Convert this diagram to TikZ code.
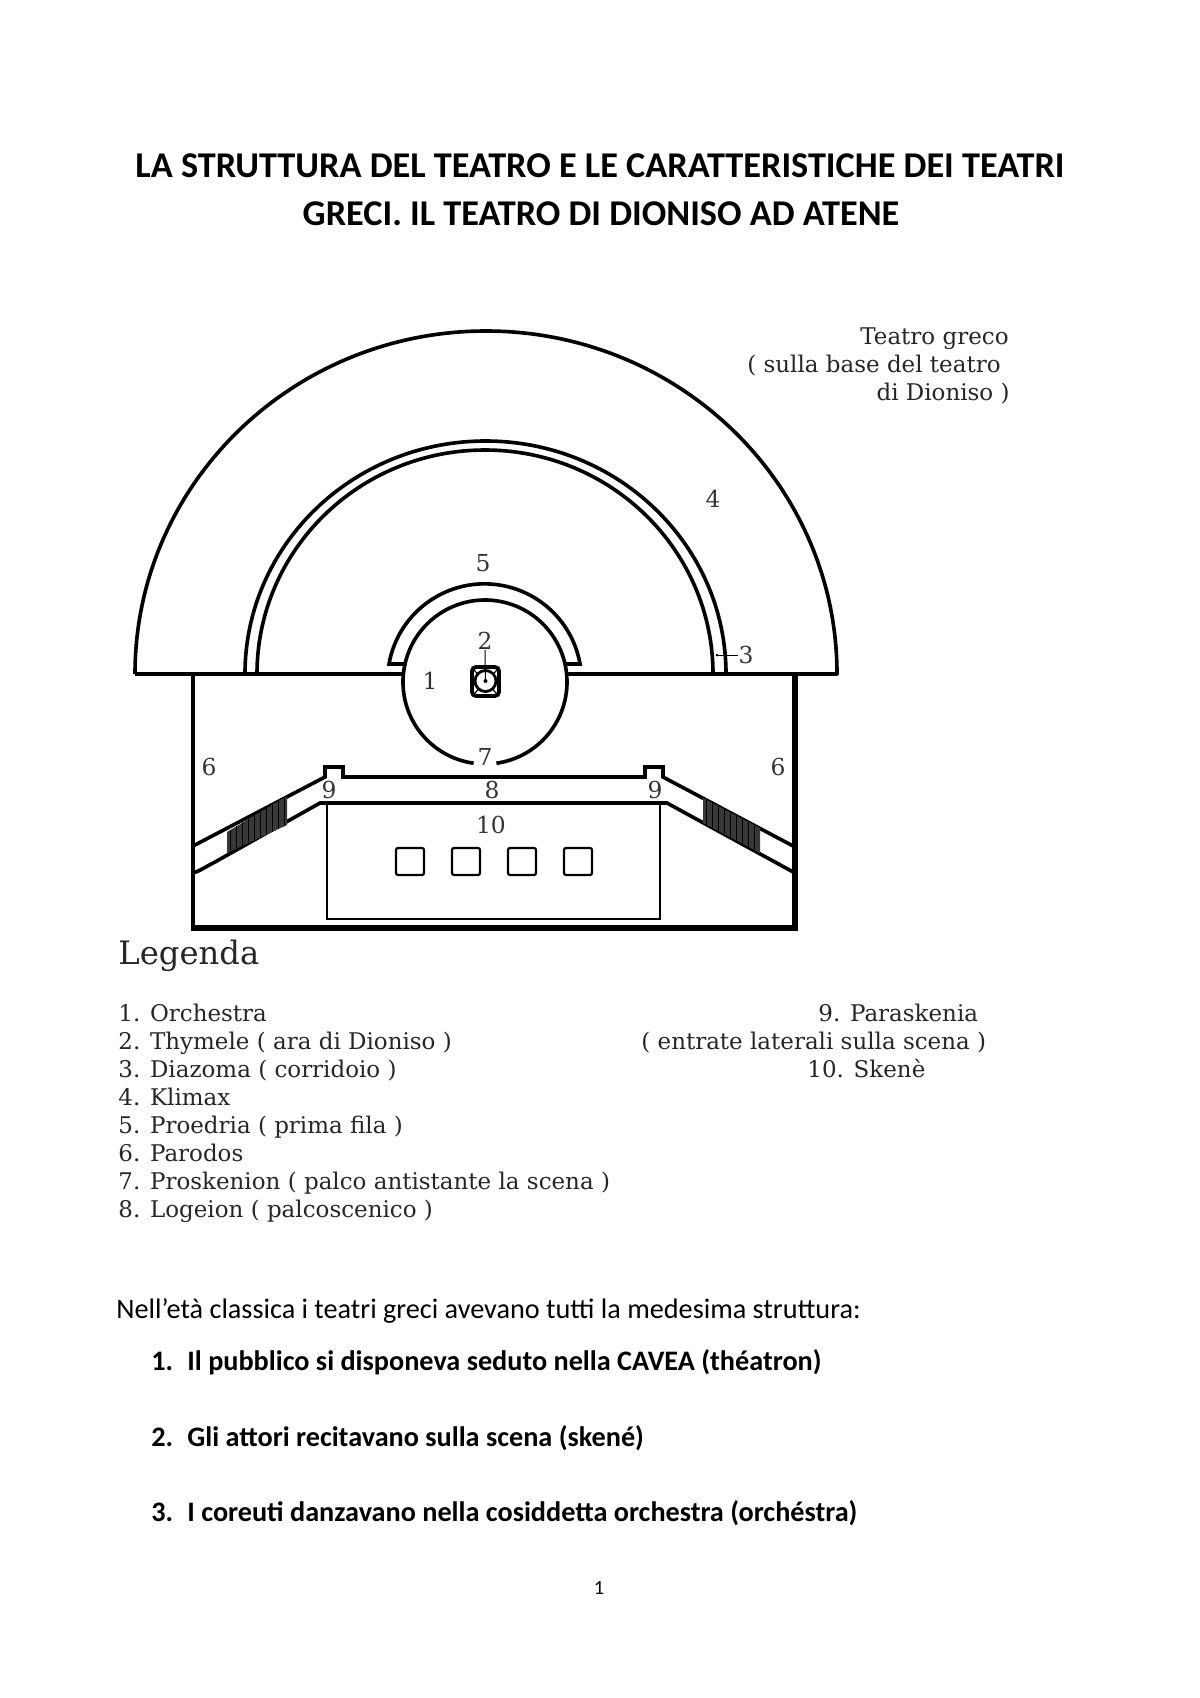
\documentclass[tikz,border=0pt]{standalone}
\usepackage{fontspec}
\setmainfont{Carlito}
\newfontfamily\legfont{DejaVu Serif}
\tikzset{
  wall/.style={line width=1.8pt},
  thinwall/.style={line width=1.1pt},
  num/.style={font=\legfont\fontsize{11.6}{14}\selectfont, text=black!80, inner sep=0pt},
  legend/.style={font=\legfont\fontsize{11.4}{14}\selectfont, text=black!85, anchor=base west, inner sep=0pt},
  body/.style={font=\fontsize{14}{17}\selectfont, anchor=base west, inner sep=0pt},
  voce/.style={body, font=\bfseries\fontsize{14}{17}\selectfont},
  titolo/.style={font=\bfseries\fontsize{18}{22}\selectfont, anchor=base, inner sep=0pt},
}
\begin{document}
\begin{tikzpicture}[x=0.496pt, y=-0.496pt]
  \useasboundingbox (0,0) rectangle (1200,1698);
  \fill[white] (0,0) rectangle (1200,1698);

  \node[titolo] (titolo1) at (600,177) {LA STRUTTURA DEL TEATRO E LE CARATTERISTICHE DEI TEATRI};
  \node[titolo] (titolo2) at (601,225) {GRECI. IL TEATRO DI DIONISO AD ATENE};

  % cavea
  \draw[wall, line join=round] (135,674) arc[start angle=180, end angle=360, x radius=351, y radius=343] -- (567,674);
  \draw[wall] (403,674) -- (135,674);
  \draw[wall] (245,674) arc[start angle=180, end angle=360, x radius=240.5, y radius=233];
  \draw[wall] (257,674) arc[start angle=180, end angle=360, x radius=228, y radius=224];

  % proedria
  \draw[wall] (406,664) -- (389,664) arc[start angle=190, end angle=350, x radius=97, y radius=97] -- (564,664);

  % orchestra
  \coordinate (orch) at (485,682);
  \draw[wall] (orch) ++(98:82) arc[start angle=98, end angle=442, radius=82];

  % thymele
  \coordinate (thymele) at (485.5,681);
  \draw[line width=1.9pt, rounded corners=2pt] (472,667) rectangle (499,696);
  \draw[line width=0.6pt] (473,669) -- (498,695) (498,669) -- (473,695);
  \fill[white] (thymele) circle (10);
  \draw[line width=1.4pt] (thymele) circle (10.5);
  \fill (thymele) circle (2);

  % recinto
  \draw[line width=2pt] (193,674) -- (193,928);
  \draw[line width=2.8pt] (191,928) -- (795,928) -- (795,674);

  % logeion e parodoi
  \draw[wall, line join=miter] (193,846) -- (325,777) -- (325,767) -- (343,767) -- (343,777) -- (645,777) -- (645,767) -- (663,767) -- (663,777) -- (795,847);
  \draw[wall, line join=miter] (193,873) .. controls (200,871) and (205,867) .. (215,862) -- (320,803) -- (667,803) -- (795,873);

  % scalette
  \begin{scope}
    \clip (227,832) -- (287,796) -- (287,825) -- (227,853) -- cycle;
    \fill[black!78] (220,790) rectangle (290,860);
    \foreach \x in {230,236,...,290} \draw[black, line width=0.4pt] (\x,790) -- (\x,860);
  \end{scope}
  \begin{scope}
    \clip (703,798) -- (760,828) -- (760,853) -- (703,823) -- cycle;
    \fill[black!78] (700,790) rectangle (765,860);
    \foreach \x in {706,712,...,760} \draw[black, line width=0.4pt] (\x,790) -- (\x,860);
  \end{scope}

  % skene
  \draw[thinwall] (327,803) -- (327,919) -- (660,919) -- (660,803);
  \foreach \x in {396,452,508,564}
    \draw[thinwall, rounded corners=1pt] (\x,848) rectangle ++(28,27);

  % numeri
  \node[num] (n1) at (430,681) {1};
  \node[num] (n2) at (485,641) {2};
  \node[num] (n3) at (746,655) {3};
  \node[num] (n4) at (713,499) {4};
  \node[num] (n5) at (483,563) {5};
  \node[num] (n6a) at (209,767) {6};
  \node[num] (n6b) at (778,767) {6};
  \node[num] (n7) at (485,757) {7};
  \node[num] (n8) at (492,790) {8};
  \node[num] (n9a) at (329,790) {9};
  \node[num] (n9b) at (655,790) {9};
  \node[num] (n10) at (491,825) {10};

  \draw[line width=0.5pt] (n2.south) -- (thymele);
  \coordinate (diazoma) at (717,655);
  \fill (diazoma) circle (1.5);
  \draw[line width=0.5pt] (n3.west) -- (diazoma);

  % didascalia
  \node[legend, anchor=base east] (did1) at (1009,344) {Teatro greco};
  \node[legend, anchor=base east] (did2) at (1001,372) {( sulla base del teatro};
  \node[legend, anchor=base east] (did3) at (1010,400) {di Dioniso )};

  % legenda
  \node[legend, font=\legfont\fontsize{16}{19}\selectfont] (leg0) at (118,964) {Legenda};
  \node[legend] (leg1) at (118,1021) {1. Orchestra};
  \node[legend] (leg2) at (118,1049) {2. Thymele ( ara di Dioniso )};
  \node[legend] (leg3) at (118,1077) {3. Diazoma ( corridoio )};
  \node[legend] (leg4) at (118,1105) {4. Klimax};
  \node[legend] (leg5) at (118,1133) {5. Proedria ( prima fila )};
  \node[legend] (leg6) at (118,1161) {6. Parodos};
  \node[legend] (leg7) at (118,1189) {7. Proskenion ( palco antistante la scena )};
  \node[legend] (leg8) at (118,1217) {8. Logeion ( palcoscenico )};
  \node[legend] (leg9) at (818,1021) {9. Paraskenia};
  \node[legend] (leg9b) at (641,1049) {( entrate laterali sulla scena )};
  \node[legend] (leg10) at (807,1077) {10. Skenè};

  % testo
  \node[body] (testo) at (116,1318) {Nell’età classica i teatri greci avevano tutti la medesima struttura:};
  \foreach \n/\y/\t in {1/1370/Il pubblico si disponeva seduto nella CAVEA (théatron),
                        2/1446/Gli attori recitavano sulla scena (skené),
                        3/1521/I coreuti danzavano nella cosiddetta orchestra (orchéstra)} {
    \node[voce] (voce\n) at (151,\y) {\n.};
    \node[voce] (testo\n) at (187,\y) {\t};
  }
  \node[inner sep=0pt, font=\fontsize{10}{12}\selectfont] (pagina) at (599,1588) {1};
\end{tikzpicture}
\end{document}
